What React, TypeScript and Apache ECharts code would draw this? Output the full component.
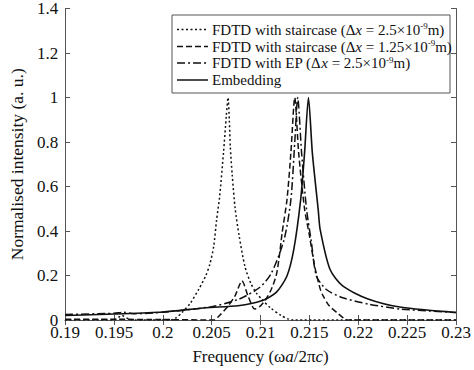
import React, { useEffect, useRef } from "react";
import * as echarts from "echarts";

const seriesNames = [
  "FDTD with staircase (Δx = 2.5×10-9m)",
  "FDTD with staircase (Δx = 1.25×10-9m)",
  "FDTD with EP (Δx = 2.5×10-9m)",
  "Embedding",
];
const legendLabels = [
  "FDTD with staircase (Δ{i|x} = 2.5×10{sup|-9}m)",
  "FDTD with staircase (Δ{i|x} = 1.25×10{sup|-9}m)",
  "FDTD with EP (Δ{i|x} = 2.5×10{sup|-9}m)",
  "Embedding",
];

const freqStair25 = [0.19, 0.195, 0.1958, 0.1965, 0.197, 0.2008, 0.2013, 0.202, 0.2028, 0.2037, 0.2044, 0.2048, 0.2052, 0.2055, 0.2058, 0.2062, 0.2065, 0.20667, 0.2068, 0.2069, 0.2071, 0.2074, 0.2078, 0.2084, 0.209, 0.2096, 0.2101, 0.211, 0.2121, 0.2128, 0.2133, 0.23];
const valStair25 = [0, 0, 0.02, 0.005, 0, 0, 0.008, 0.035, 0.075, 0.14, 0.2, 0.25, 0.33, 0.45, 0.55, 0.75, 0.92, 1.0, 0.9, 0.78, 0.65, 0.5, 0.38, 0.24, 0.165, 0.12, 0.094, 0.055, 0.02, 0.005, 0, 0];

const freqStair125 = [0.19, 0.195, 0.2, 0.2052, 0.2058, 0.2067, 0.2074, 0.2081, 0.2087, 0.2094, 0.2099, 0.2105, 0.2111, 0.2116, 0.2119, 0.2122, 0.2127, 0.2131, 0.2135, 0.2139, 0.2145, 0.215, 0.2153, 0.2156, 0.2161, 0.2164, 0.217, 0.2178, 0.2184, 0.2189, 0.23];
const valStair125 = [0.003, 0.003, 0.002, 0, 0.02, 0.064, 0.11, 0.176, 0.11, 0.049, 0.06, 0.09, 0.138, 0.2, 0.28, 0.39, 0.54, 0.75, 1.0, 0.75, 0.5, 0.38, 0.3, 0.228, 0.14, 0.108, 0.065, 0.034, 0.012, 0, 0];

const freqEP = [0.19, 0.195, 0.196, 0.197, 0.2, 0.205, 0.2078, 0.2099, 0.2111, 0.2124, 0.2131, 0.2135, 0.2138, 0.2142, 0.2147, 0.2152, 0.2157, 0.2167, 0.2184, 0.2211, 0.2244, 0.23];
const valEP = [0.025, 0.03, 0.035, 0.028, 0.035, 0.06, 0.094, 0.146, 0.21, 0.36, 0.54, 0.8, 1.0, 0.75, 0.5, 0.35, 0.2, 0.138, 0.1, 0.071, 0.049, 0.034];

const freqEmbed = [0.19, 0.195, 0.2, 0.2044, 0.2077, 0.2101, 0.2116, 0.2127, 0.2134, 0.2141, 0.2145, 0.2149, 0.2153, 0.2159, 0.2161, 0.2171, 0.2184, 0.221, 0.2244, 0.23];
const valEmbed = [0.02, 0.027, 0.036, 0.055, 0.064, 0.086, 0.124, 0.198, 0.317, 0.54, 0.75, 1.0, 0.75, 0.495, 0.406, 0.228, 0.153, 0.094, 0.057, 0.034];

const xTicks = { min: 0.19, max: 0.23, interval: 0.005 };
const yTicks = { min: 0, max: 1.4, interval: 0.2 };

const FONT = "'Liberation Serif', 'DejaVu Serif', serif";
const AXIS_COLOR = "#555";
const INK = "#111";

function pairs(xs: number[], ys: number[]) {
  return xs.map((x, i) => [x, ys[i]]);
}

export default function App() {
  const ref = useRef<HTMLDivElement>(null);
  useEffect(() => {
    document.body.style.margin = "0";
    if (!ref.current) return;
    const chart = echarts.init(ref.current, undefined, { renderer: "svg" });
    const axisCommon = {
      axisLine: { show: true, lineStyle: { color: AXIS_COLOR, width: 1 } },
      axisTick: { show: true, inside: true, length: 5, lineStyle: { color: AXIS_COLOR } },
      splitLine: { show: false },
    };
    const lineTypes: any[] = [[2, 2.5], [6, 3], [8, 3, 2, 3], "solid"];
    const datas = [
      pairs(freqStair25, valStair25),
      pairs(freqStair125, valStair125),
      pairs(freqEP, valEP),
      pairs(freqEmbed, valEmbed),
    ];
    const richText = {
      i: { fontStyle: "italic", fontFamily: FONT, fontSize: 15, fill: INK },
      sup: { fontFamily: FONT, fontSize: 9, fill: INK, padding: [0, 0, 7, 0] },
    };
    const boxL = 172, boxT = 15, boxR = 450, boxB = 93;
    const rowY = [29.5, 46.5, 63, 80];
    const legendEls: any[] = [
      {
        type: "rect",
        shape: { x: boxL, y: boxT, width: boxR - boxL, height: boxB - boxT },
        style: { fill: "#fff", stroke: AXIS_COLOR, lineWidth: 1 },
        z: 10,
      },
    ];
    seriesNames.forEach((_, i) => {
      const dash = lineTypes[i] === "solid" ? null : lineTypes[i];
      legendEls.push({
        type: "line",
        shape: { x1: 177, y1: rowY[i], x2: 208, y2: rowY[i] },
        style: { stroke: INK, lineWidth: 1.5, lineDash: dash },
        z: 11,
      });
      legendEls.push({
        type: "text",
        x: 212,
        y: rowY[i],
        style: {
          text: legendLabels[i],
          fontFamily: FONT,
          fontSize: 15,
          fill: INK,
          verticalAlign: "middle",
          align: "left",
          rich: richText,
        },
        z: 11,
      });
    });
    chart.setOption({
      animation: false,
      backgroundColor: "#fff",
      grid: { left: 56, right: 18, top: 7, bottom: 49 },
      graphic: legendEls,
      xAxis: [
        {
          type: "value",
          ...xTicks,
          ...axisCommon,
          axisLabel: { fontFamily: FONT, fontSize: 17, color: INK, margin: 4 },
          name: "Frequency (ω{i|a}/2π{i|c})",
          nameLocation: "middle",
          nameGap: 28,
          nameTextStyle: {
            fontFamily: FONT,
            fontSize: 17,
            color: INK,
            rich: { i: { fontStyle: "italic", fontFamily: FONT, fontSize: 17, color: INK } },
          },
        },
        {
          type: "value",
          position: "top",
          ...xTicks,
          ...axisCommon,
          axisLabel: { show: false },
        },
      ],
      yAxis: [
        {
          type: "value",
          ...yTicks,
          ...axisCommon,
          axisLabel: { fontFamily: FONT, fontSize: 17, color: INK, margin: 7 },
          name: "Normalised intensity (a. u.)",
          nameLocation: "middle",
          nameGap: 35,
          nameTextStyle: { fontFamily: FONT, fontSize: 17.5, color: INK },
        },
        {
          type: "value",
          position: "right",
          ...yTicks,
          ...axisCommon,
          axisLabel: { show: false },
        },
      ],
      series: seriesNames.map((name, i) => ({
        name,
        type: "line",
        data: datas[i],
        showSymbol: false,
        symbol: "none",
        smooth: 0.25,
        lineStyle: { color: INK, width: i === 3 ? 1.6 : 1.5, type: lineTypes[i] },
        itemStyle: { color: INK },
        z: 2 + i,
      })),
    });
    return () => chart.dispose();
  }, []);
  return <div ref={ref} style={{ width: 474, height: 370 }} />;
}
